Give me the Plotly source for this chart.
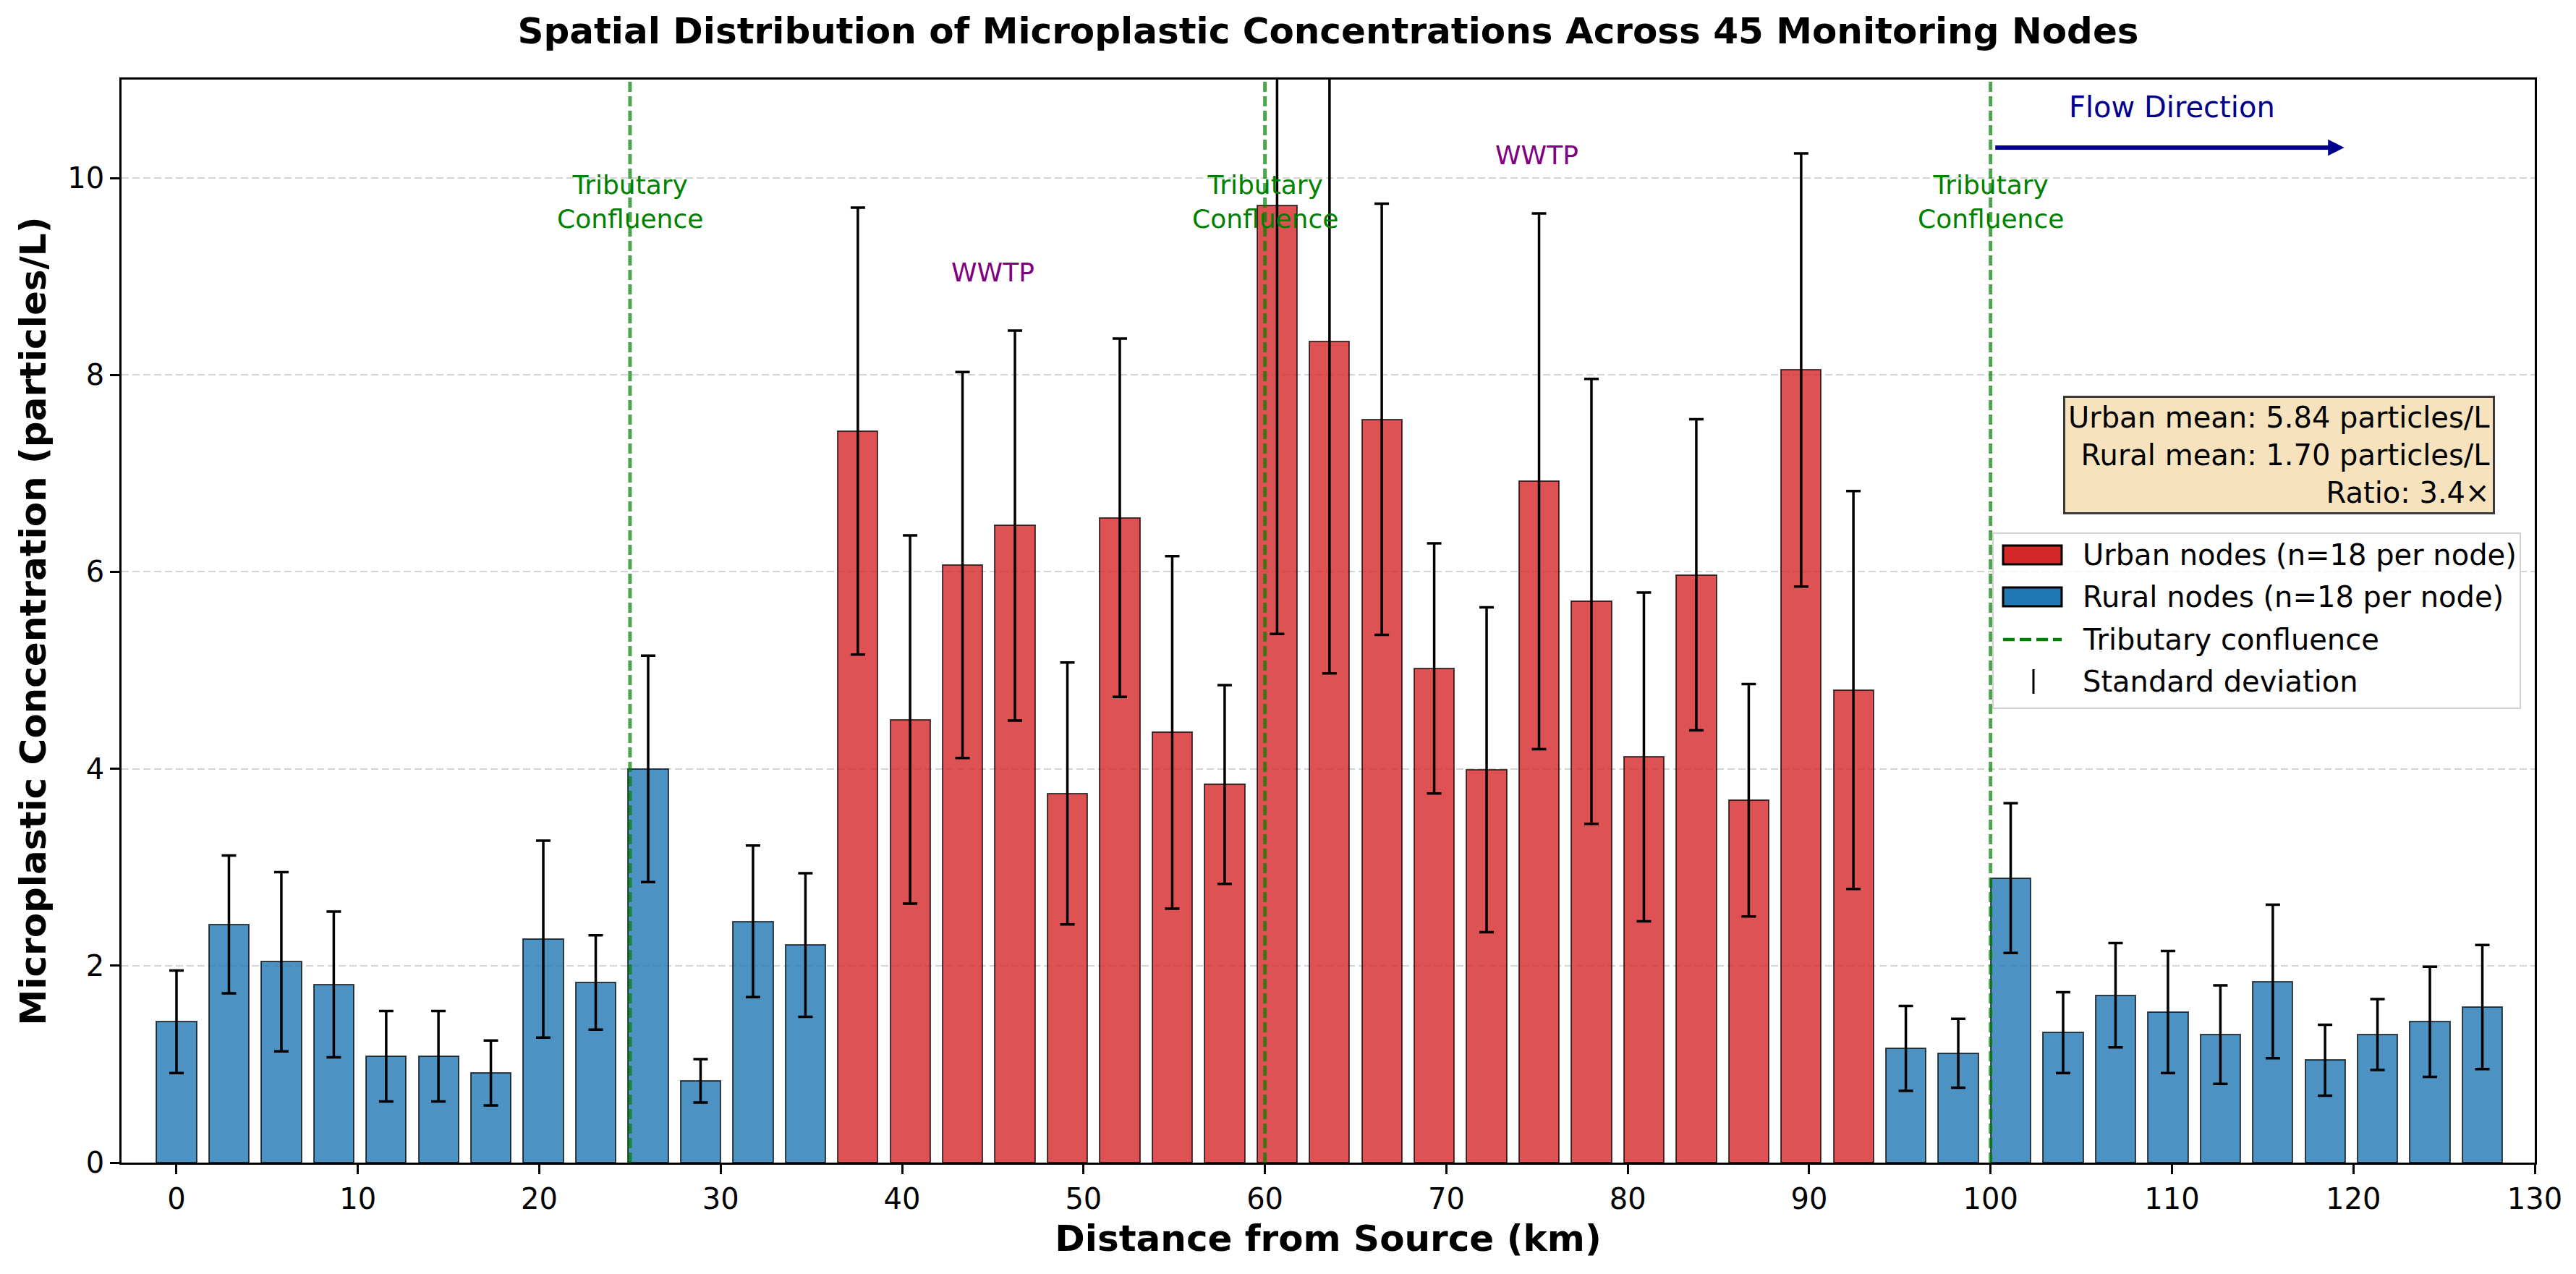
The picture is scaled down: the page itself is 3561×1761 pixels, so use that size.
import plotly.graph_objects as go

# ---------------- data ----------------
distance_km = [0.00, 2.89, 5.78, 8.67, 11.56, 14.44, 17.33, 20.22, 23.11, 26.00, 28.89, 31.78, 34.67,
               37.56, 40.44, 43.33, 46.22, 49.11, 52.00, 54.89, 57.78, 60.67, 63.56, 66.44, 69.33,
               72.22, 75.11, 78.00, 80.89, 83.78, 86.67, 89.56, 92.44,
               95.33, 98.22, 101.11, 104.00, 106.89, 109.78, 112.67, 115.56, 118.44, 121.33, 124.22, 127.11]
concentration = [1.43, 2.42, 2.04, 1.81, 1.08, 1.08, 0.91, 2.27, 1.83, 4.00, 0.83, 2.45, 2.21,
                 7.43, 4.50, 6.07, 6.47, 3.75, 6.55, 4.37, 3.84, 9.72, 8.34, 7.55, 5.02,
                 3.99, 6.92, 5.70, 4.12, 5.97, 3.68, 8.05, 4.80,
                 1.16, 1.11, 2.89, 1.32, 1.70, 1.53, 1.30, 1.84, 1.04, 1.30, 1.43, 1.58]
std_dev = [0.52, 0.70, 0.91, 0.74, 0.46, 0.46, 0.33, 1.00, 0.48, 1.15, 0.22, 0.77, 0.73,
           2.27, 1.87, 1.96, 1.98, 1.33, 1.82, 1.79, 1.01, 4.35, 3.37, 2.19, 1.27,
           1.65, 2.72, 2.26, 1.67, 1.58, 1.18, 2.20, 2.02,
           0.43, 0.35, 0.76, 0.41, 0.53, 0.62, 0.50, 0.78, 0.36, 0.36, 0.56, 0.63]
zone = ["Rural", "Rural", "Rural", "Rural", "Rural", "Rural", "Rural", "Rural", "Rural", "Rural",
        "Rural", "Rural", "Rural",
        "Urban", "Urban", "Urban", "Urban", "Urban", "Urban", "Urban", "Urban", "Urban", "Urban",
        "Urban", "Urban", "Urban", "Urban", "Urban", "Urban", "Urban", "Urban", "Urban", "Urban",
        "Rural", "Rural", "Rural", "Rural", "Rural", "Rural", "Rural", "Rural", "Rural", "Rural",
        "Rural", "Rural"]
confluence_km = [25, 60, 100]
wwtp_km = [45, 75]
wwtp_label_y = [9.04, 10.23]
x_ticks = [0, 10, 20, 30, 40, 50, 60, 70, 80, 90, 100, 110, 120, 130]
y_ticks = [0, 2, 4, 6, 8, 10]
legend_labels = ["Urban nodes (n=18 per node)", "Rural nodes (n=18 per node)",
                 "Tributary confluence", "Standard deviation"]
stats_text = "Urban mean: 5.84 particles/L<br>Rural mean: 1.70 particles/L<br>Ratio: 3.4×"

# ---------------- layout constants ----------------
W, H = 3561, 1761
L, R, T, B = 168, 57, 110, 154
PW, PH = W - L - R, H - T - B
FONT = "DejaVu Sans"


def pxx(X):
    return (X - L) / PW


def pxy(Y):
    return (H - B - Y) / PH


fill = {"Urban": "rgba(214,39,40,0.8)", "Rural": "rgba(31,119,180,0.8)"}

fig = go.Figure()
for z in ["Rural", "Urban"]:
    xs = [d for d, zz in zip(distance_km, zone) if zz == z]
    ys = [c for c, zz in zip(concentration, zone) if zz == z]
    es = [s for s, zz in zip(std_dev, zone) if zz == z]
    fig.add_trace(go.Bar(
        x=xs, y=ys, width=2.2, name=z, showlegend=False,
        marker=dict(color=fill[z], line=dict(color="rgba(0,0,0,0.7)", width=2)),
        error_y=dict(type="data", array=es, visible=True, color="black", thickness=3.5, width=10),
    ))

shapes = []
annotations = []
for c in confluence_km:
    shapes.append(dict(type="line", xref="x", yref="paper", x0=c, x1=c, y0=0, y1=1,
                       line=dict(color="rgba(0,128,0,0.7)", width=5, dash="14px,6px"),
                       layer="above"))
    annotations.append(dict(x=c, y=9.76, xref="x", yref="y", text="Tributary<br>Confluence",
                            showarrow=False, font=dict(family=FONT, size=36, color="green"),
                            xanchor="center", yanchor="middle", align="center"))

for xk, yk in zip(wwtp_km, wwtp_label_y):
    annotations.append(dict(x=xk, y=yk, xref="x", yref="y", text="WWTP", showarrow=False,
                            font=dict(family=FONT, size=36, color="purple"),
                            xanchor="center", yanchor="middle"))

# flow direction arrow
annotations.append(dict(x=119.5, y=10.31, ax=100.2, ay=10.31, xref="x", yref="y", axref="x", ayref="y",
                        text="", showarrow=True, arrowhead=2, arrowsize=0.75, arrowwidth=6,
                        arrowcolor="darkblue", standoff=0, startstandoff=0))
annotations.append(dict(x=110, y=10.72, xref="x", yref="y", text="Flow Direction", showarrow=False,
                        font=dict(family=FONT, size=40, color="darkblue"),
                        xanchor="center", yanchor="middle"))

# statistics box
annotations.append(dict(x=pxx(3449), y=pxy(547), xref="paper", yref="paper", text=stats_text,
                        showarrow=False, align="right", xanchor="right", yanchor="top",
                        font=dict(family=FONT, size=40, color="black"),
                        bgcolor="rgba(245,222,179,0.85)", bordercolor="#3a3a3a", borderwidth=3,
                        borderpad=4))

# legend (drawn manually for matplotlib-like symbol sizes)
shapes.append(dict(type="rect", xref="paper", yref="paper", x0=pxx(2755), x1=pxx(3484),
                   y0=pxy(979), y1=pxy(737), line=dict(color="#d0d0d0", width=2),
                   fillcolor="rgba(255,255,255,0.8)", layer="above"))
row_y = [767, 825, 884, 942]
shapes.append(dict(type="rect", xref="paper", yref="paper", x0=pxx(2769), x1=pxx(2850),
                   y0=pxy(row_y[0] + 13), y1=pxy(row_y[0] - 13), line=dict(color="black", width=3),
                   fillcolor="#d62728", layer="above"))
shapes.append(dict(type="rect", xref="paper", yref="paper", x0=pxx(2769), x1=pxx(2850),
                   y0=pxy(row_y[1] + 13), y1=pxy(row_y[1] - 13), line=dict(color="black", width=3),
                   fillcolor="#1f77b4", layer="above"))
shapes.append(dict(type="line", xref="paper", yref="paper", x0=pxx(2769), x1=pxx(2850),
                   y0=pxy(row_y[2]), y1=pxy(row_y[2]),
                   line=dict(color="green", width=4.5, dash="16px,7px"), layer="above"))
shapes.append(dict(type="line", xref="paper", yref="paper", x0=pxx(2811), x1=pxx(2811),
                   y0=pxy(row_y[3] + 17), y1=pxy(row_y[3] - 17),
                   line=dict(color="black", width=3), layer="above"))
for lab, ry in zip(legend_labels, row_y):
    annotations.append(dict(x=pxx(2877), y=pxy(ry), xref="paper", yref="paper", text=lab,
                            showarrow=False, xanchor="left", yanchor="middle",
                            font=dict(family=FONT, size=40, color="black")))

fig.update_layout(
    width=W, height=H,
    margin=dict(l=L, r=R, t=T, b=B, autoexpand=False),
    paper_bgcolor="white", plot_bgcolor="white",
    barmode="overlay", bargap=0,
    showlegend=False,
    font=dict(family=FONT, color="black"),
    title=dict(text="<b>Spatial Distribution of Microplastic Concentrations Across 45 Monitoring Nodes</b>",
               x=0.5, xref="paper", xanchor="center", y=1 - 42 / H, yref="container", yanchor="middle",
               font=dict(family=FONT, size=50, color="black")),
    shapes=shapes,
    annotations=annotations,
)
fig.update_xaxes(
    range=[-3.03, 130], tickmode="array", tickvals=x_ticks, ticks="outside", ticklen=13, tickwidth=2.5,
    tickcolor="black", tickfont=dict(family=FONT, size=40, color="black"),
    showline=True, linecolor="black", linewidth=2.5, mirror=True, showgrid=False, zeroline=False,
    title=dict(text="<b>Distance from Source (km)</b>", font=dict(family=FONT, size=50, color="black"),
               standoff=16),
)
fig.update_yaxes(
    range=[0, 11], tickmode="array", tickvals=y_ticks, ticks="outside", ticklen=13, tickwidth=2.5,
    tickcolor="black", tickfont=dict(family=FONT, size=40, color="black"),
    showline=True, linecolor="black", linewidth=2.5, mirror=True, zeroline=False,
    showgrid=True, gridcolor="rgba(160,160,160,0.45)", gridwidth=2, griddash="10px,5px",
    title=dict(text="<b>Microplastic Concentration (particles/L)</b>",
               font=dict(family=FONT, size=50, color="black"), standoff=14),
)

fig.write_html("out.html")
